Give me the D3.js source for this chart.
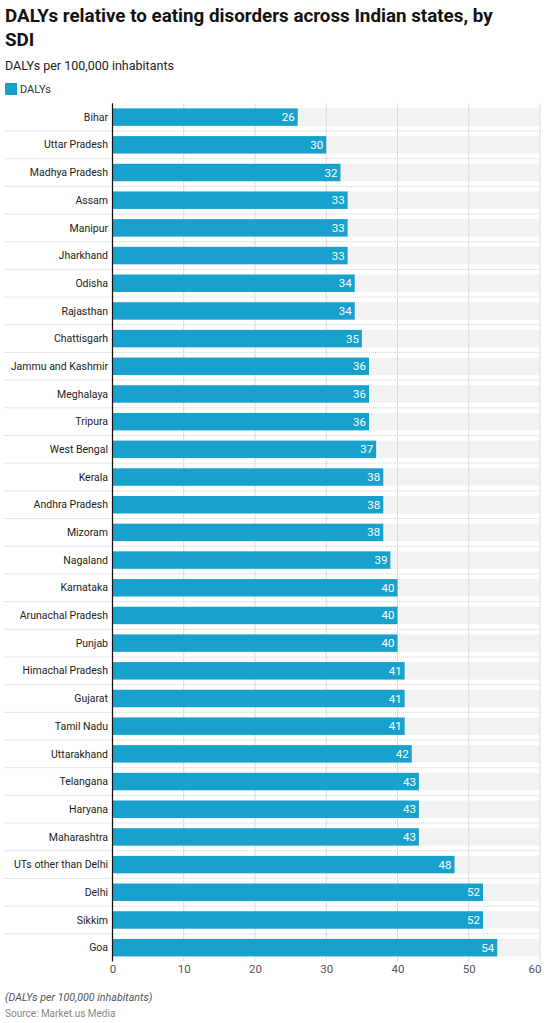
<!DOCTYPE html>
<html>
<head>
<meta charset="utf-8">
<script src="https://cdn.jsdelivr.net/npm/d3@7"></script>
<style>
  body { margin: 0; background: #fff; font-family: Roboto, "Noto Sans", sans-serif; }
</style>
</head>
<body>
<div id="wrapper"></div>
<script>
const states = ["Bihar", "Uttar Pradesh", "Madhya Pradesh", "Assam", "Manipur", "Jharkhand",
  "Odisha", "Rajasthan", "Chattisgarh", "Jammu and Kashmir", "Meghalaya", "Tripura",
  "West Bengal", "Kerala", "Andhra Pradesh", "Mizoram", "Nagaland", "Karnataka",
  "Arunachal Pradesh", "Punjab", "Himachal Pradesh", "Gujarat", "Tamil Nadu",
  "Uttarakhand", "Telangana", "Haryana", "Maharashtra", "UTs other than Delhi",
  "Delhi", "Sikkim", "Goa"];
const dalys = [26, 30, 32, 33, 33, 33, 34, 34, 35, 36, 36, 36, 37, 38, 38, 38, 39, 40,
  40, 40, 41, 41, 41, 42, 43, 43, 43, 48, 52, 52, 54];
const xTicks = [0, 10, 20, 30, 40, 50, 60];

const data = states.map((s, i) => ({ state: s, value: dalys[i] }));

const dimensions = {
  width: 545,
  height: 1023,
  margins: { top: 103.3, right: 5, bottom: 61.5, left: 112.5 },
};
dimensions.boundedWidth = dimensions.width - dimensions.margins.left - dimensions.margins.right;
dimensions.boundedHeight = dimensions.height - dimensions.margins.top - dimensions.margins.bottom;

const barColor = "#18a1cd";

const svg = d3.select("#wrapper").append("svg")
  .attr("width", dimensions.width)
  .attr("height", dimensions.height);

// Title, subtitle, legend
const title = svg.append("text")
  .attr("x", 5).attr("y", 22)
  .attr("font-size", 18.8).attr("font-weight", "bold").attr("fill", "#111");
title.append("tspan").attr("x", 5).attr("dy", 0)
  .text("DALYs relative to eating disorders across Indian states, by");
title.append("tspan").attr("x", 5).attr("dy", 24).text("SDI");

svg.append("text").attr("x", 5).attr("y", 70)
  .attr("font-size", 12.5).attr("fill", "#222")
  .text("DALYs per 100,000 inhabitants");

svg.append("rect").attr("x", 5).attr("y", 83).attr("width", 12).attr("height", 12)
  .attr("fill", barColor);
svg.append("text").attr("x", 20).attr("y", 93)
  .attr("font-size", 11).attr("fill", "#333").text("DALYs");

const bounds = svg.append("g")
  .attr("transform", `translate(${dimensions.margins.left},${dimensions.margins.top})`);

const xScale = d3.scaleLinear()
  .domain([0, 60])
  .range([0, dimensions.boundedWidth]);
const yScale = d3.scaleBand()
  .domain(states)
  .range([0, dimensions.boundedHeight])
  .paddingInner(0.37)
  .paddingOuter(0.185);

// background track per row
bounds.selectAll(".track").data(data).join("rect")
  .attr("class", "track")
  .attr("x", 0)
  .attr("y", d => yScale(d.state))
  .attr("width", xScale(60))
  .attr("height", yScale.bandwidth())
  .attr("fill", "#f2f2f2");

// dotted row separators
const step = yScale.step();
const gap = step - yScale.bandwidth();
bounds.selectAll(".sep").data(states.slice(0, -1)).join("line")
  .attr("class", "sep")
  .attr("x1", 5 - dimensions.margins.left)
  .attr("x2", xScale(60))
  .attr("y1", d => yScale(d) + yScale.bandwidth() + gap / 2)
  .attr("y2", d => yScale(d) + yScale.bandwidth() + gap / 2)
  .attr("stroke", "#cfcfcf")
  .attr("stroke-dasharray", "1,1");

// vertical gridlines
bounds.selectAll(".grid").data(xTicks.slice(1)).join("line")
  .attr("class", "grid")
  .attr("x1", d => xScale(d)).attr("x2", d => xScale(d))
  .attr("y1", 0).attr("y2", dimensions.boundedHeight)
  .attr("stroke", "#dcdcdc");

// bars
bounds.selectAll(".bar").data(data).join("rect")
  .attr("class", "bar")
  .attr("x", 0)
  .attr("y", d => yScale(d.state))
  .attr("width", d => xScale(d.value))
  .attr("height", yScale.bandwidth())
  .attr("fill", barColor);

// value labels
bounds.selectAll(".val").data(data).join("text")
  .attr("class", "val")
  .attr("x", d => xScale(d.value) - 3)
  .attr("y", d => yScale(d.state) + yScale.bandwidth() / 2)
  .attr("dy", "0.35em")
  .attr("text-anchor", "end")
  .attr("font-size", 11.5)
  .attr("fill", "#fff")
  .text(d => d.value);

// category labels
bounds.selectAll(".cat").data(data).join("text")
  .attr("class", "cat")
  .attr("x", -4.5)
  .attr("y", d => yScale(d.state) + yScale.bandwidth() / 2)
  .attr("dy", "0.35em")
  .attr("text-anchor", "end")
  .attr("font-size", 10.5)
  .attr("fill", "#222")
  .text(d => d.state);

// y axis line
bounds.append("line")
  .attr("x1", 0).attr("x2", 0)
  .attr("y1", 0).attr("y2", dimensions.boundedHeight)
  .attr("stroke", "#111").attr("stroke-width", 1.2);

// x axis labels
const xAxis = d3.axisBottom(xScale).tickValues(xTicks).tickSize(0).tickPadding(3);
const xAxisGroup = bounds.append("g")
  .attr("transform", `translate(0,${dimensions.boundedHeight})`)
  .call(xAxis);
xAxisGroup.select(".domain").remove();
xAxisGroup.selectAll("text")
  .attr("font-family", "Roboto, sans-serif")
  .attr("font-size", 11.5)
  .attr("fill", "#555")
  .attr("text-anchor", d => d === 60 ? "end" : "middle")
  .attr("dx", d => d === 60 ? 1 : 0);

// footer
svg.append("text").attr("x", 5).attr("y", 1001)
  .attr("font-size", 10.7).attr("font-style", "italic").attr("fill", "#555")
  .text("(DALYs per 100,000 inhabitants)");
svg.append("text").attr("x", 5).attr("y", 1017)
  .attr("font-size", 10).attr("fill", "#888")
  .text("Source: Market.us Media");
</script>
</body>
</html>
